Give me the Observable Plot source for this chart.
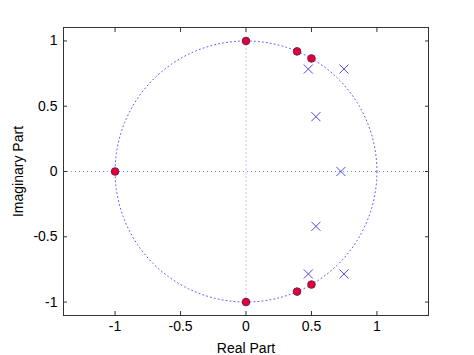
<!DOCTYPE html>
<html><head><meta charset="utf-8">
<script src="https://cdn.jsdelivr.net/npm/d3@7"></script>
<script src="https://cdn.jsdelivr.net/npm/@observablehq/plot@0.6"></script>
<style>body{margin:0;background:#fff}svg{font-family:"Liberation Sans",Arial,sans-serif}</style>
</head><body><div id="chart"></div>
<script>
// zeros (o) and poles (x)
const zeroRe = [-1, 0, 0, 0.39, 0.39, 0.5, 0.5];
const zeroIm = [0, 1, -1, 0.92, -0.92, 0.866, -0.866];
const poleRe = [0.476, 0.476, 0.748, 0.748, 0.534, 0.534, 0.725];
const poleIm = [0.785, -0.785, 0.785, -0.785, 0.42, -0.42, 0];
const xTicks = [-1, -0.5, 0, 0.5, 1];
const yTicks = [-1, -0.5, 0, 0.5, 1];

const zeros = zeroRe.map((r, i) => ({re: r, im: zeroIm[i]}));
const poles = poleRe.map((r, i) => ({re: r, im: poleIm[i]}));
const unitCircle = d3.range(0, 361, 2).map(a => ({re: Math.cos(a * Math.PI / 180), im: Math.sin(a * Math.PI / 180)}));

const fmt = d => d.toString();

const chart = Plot.plot({
  width: 474, height: 355,
  marginLeft: 63, marginRight: 46, marginTop: 27, marginBottom: 40,
  style: {fontSize: "14px", fontFamily: "'Liberation Sans', Arial, sans-serif", color: "#000"},
  x: {domain: [-1.394, 1.394]},
  y: {domain: [-1.103, 1.103]},
  marks: [
    Plot.line(unitCircle, {x: "re", y: "im", stroke: "#5a5aff", strokeWidth: 1, strokeDasharray: "1,3"}),
    Plot.ruleY([0], {x1: -1.394, x2: 1.394, stroke: "#7a7aff", strokeWidth: 1, strokeDasharray: "1,3", strokeOpacity: 0.9}),
    Plot.ruleX([0], {y1: -1, y2: 1, stroke: "#7a7aff", strokeWidth: 1, strokeDasharray: "1,3", strokeOpacity: 0.9}),
    Plot.frame({stroke: "#333"}),
    Plot.axisX(xTicks, {anchor: "bottom", tickSize: -4, tickPadding: 10, tickFormat: fmt, stroke: "#333",
      label: "Real Part", labelAnchor: "center", labelArrow: "none", labelOffset: 37, fontSize: 14}),
    Plot.axisX(xTicks, {anchor: "top", tickSize: -4, tickFormat: () => "", stroke: "#333", label: null}),
    Plot.axisY(yTicks, {anchor: "left", tickSize: -4, tickPadding: 10, tickFormat: fmt, stroke: "#333",
      label: "Imaginary Part", labelAnchor: "center", labelArrow: "none", labelOffset: 50, fontSize: 14}),
    Plot.axisY(yTicks, {anchor: "right", tickSize: -4, tickFormat: () => "", stroke: "#333", label: null}),
    Plot.dot(poles, {x: "re", y: "im", symbol: "times", r: 4.2, stroke: "#4b4bf0", strokeWidth: 1}),
    Plot.dot(zeros, {x: "re", y: "im", r: 3.8, fill: "#e8002e", stroke: "#6a1a6a", strokeWidth: 1})
  ]
});
document.getElementById("chart").append(chart);
</script></body></html>
